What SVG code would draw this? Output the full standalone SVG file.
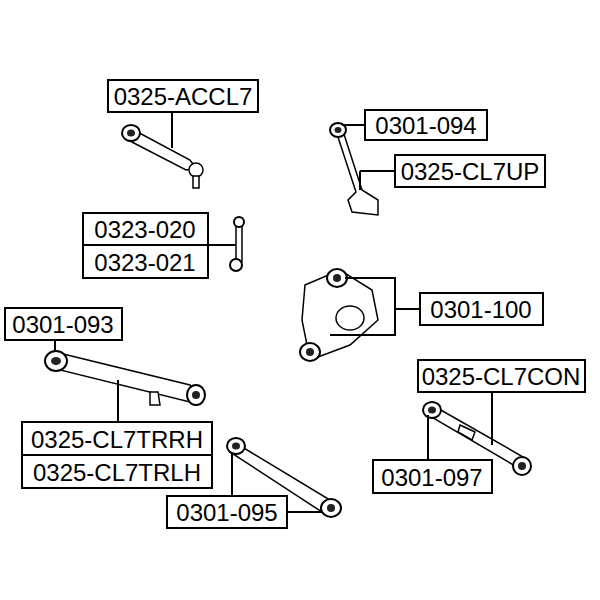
<svg xmlns="http://www.w3.org/2000/svg" width="600" height="600" viewBox="0 0 600 600">
<style>
.b{fill:#fff;stroke:#000;stroke-width:2}
.t{font-family:"Liberation Sans",Arial,sans-serif;font-size:24px;fill:#000}
.c{stroke:#000;stroke-width:2;fill:none}
.p{fill:#fff;stroke:#000;stroke-width:1.5}
.d{fill:#fff;stroke:#000;stroke-width:2}
.k{fill:#222}
</style>
<rect width="600" height="600" fill="#fff"/>
<g id="parts">
<path class="p" d="M130 128 L190 160 L196 168 L186 170 L128 140 Z"/>
<ellipse class="d" cx="131" cy="133" rx="9" ry="8"/><ellipse class="k" cx="131" cy="133" rx="4" ry="3.5"/>
<circle class="p" cx="196" cy="170" r="7"/><rect class="p" x="193" y="176" width="6" height="12"/>
<path class="p" d="M335 128 L342 128 L362 190 L378 200 L378 215 L352 212 L348 200 L356 192 Z"/>
<ellipse class="d" cx="338" cy="130" rx="8" ry="7"/><ellipse class="k" cx="338" cy="130" rx="3.5" ry="3"/>
<path class="p" d="M236 218 L242 218 L242 262 L236 262 Z"/>
<circle class="d" cx="239" cy="222" r="5"/><circle class="d" cx="236" cy="265" r="6"/>
<path class="p" d="M305 285 L340 270 L372 290 L378 320 L350 345 L310 360 L302 320 Z"/>
<ellipse class="d" cx="337" cy="278" rx="10" ry="9"/><ellipse class="k" cx="337" cy="278" rx="4" ry="4"/>
<ellipse class="d" cx="310" cy="352" rx="10" ry="9"/><ellipse class="k" cx="310" cy="352" rx="4" ry="4"/>
<ellipse class="p" cx="350" cy="318" rx="14" ry="12"/>
<path class="p" d="M55 352 L190 385 L200 398 L190 402 L60 370 Z"/>
<ellipse class="d" cx="56" cy="361" rx="11" ry="10"/><ellipse class="k" cx="56" cy="361" rx="5" ry="4"/>
<ellipse class="d" cx="196" cy="395" rx="9" ry="10"/><ellipse class="k" cx="196" cy="395" rx="4" ry="4"/>
<path class="p" d="M150 392 L158 392 L160 405 L150 405 Z"/>
<path class="p" d="M432 405 L525 458 L522 470 L428 415 Z"/>
<ellipse class="d" cx="432" cy="410" rx="9" ry="8"/><ellipse class="k" cx="432" cy="410" rx="4" ry="3.5"/>
<ellipse class="d" cx="522" cy="466" rx="9" ry="9"/><ellipse class="k" cx="522" cy="466" rx="4" ry="4"/>
<path class="p" d="M460 425 L475 432 L472 440 L458 432 Z"/>
<path class="p" d="M234 442 L330 500 L334 512 L322 512 L230 452 Z"/>
<ellipse class="d" cx="236" cy="446" rx="9" ry="8"/><ellipse class="k" cx="236" cy="446" rx="4" ry="3.5"/>
<ellipse class="d" cx="331" cy="508" rx="10" ry="9"/><ellipse class="k" cx="331" cy="508" rx="4" ry="4"/>
</g>
<g id="connectors">
<line class="c" x1="172" y1="112" x2="172" y2="148"/>
<line class="c" x1="365" y1="125" x2="342" y2="125"/>
<line class="c" x1="395" y1="171" x2="360" y2="171"/><line class="c" x1="360" y1="171" x2="360" y2="190"/>
<line class="c" x1="208" y1="245" x2="236" y2="245"/>
<polyline class="c" points="345,278 395,278 395,335 330,335"/>
<line class="c" x1="395" y1="309" x2="420" y2="309"/>
<line class="c" x1="55" y1="340" x2="55" y2="352"/>
<line class="c" x1="118" y1="380" x2="118" y2="422"/>
<polyline class="c" points="492,392 492,445"/>
<polyline class="c" points="428,415 428,460"/>
<polyline class="c" points="232,452 232,496"/>
<line class="c" x1="287" y1="512" x2="322" y2="512"/>
</g>
<g id="n1"><rect class="b" x="108" y="80" width="150" height="32"/><text class="t" x="183" y="105" text-anchor="middle">0325-ACCL7</text></g>
<g id="n2"><rect class="b" x="365" y="110" width="122" height="30"/><text class="t" x="426" y="134" text-anchor="middle">0301-094</text></g>
<g id="n3"><rect class="b" x="395" y="155" width="150" height="32"/><text class="t" x="470" y="180" text-anchor="middle">0325-CL7UP</text></g>
<g id="n4"><rect class="b" x="83" y="213" width="125" height="32"/><text class="t" x="145" y="238" text-anchor="middle">0323-020</text></g>
<g id="n5"><rect class="b" x="83" y="245" width="125" height="33"/><text class="t" x="145" y="271" text-anchor="middle">0323-021</text></g>
<g id="n6"><rect class="b" x="420" y="293" width="123" height="32"/><text class="t" x="481" y="318" text-anchor="middle">0301-100</text></g>
<g id="n7"><rect class="b" x="5" y="308" width="117" height="32"/><text class="t" x="63" y="333" text-anchor="middle">0301-093</text></g>
<g id="n8"><rect class="b" x="418" y="360" width="167" height="32"/><text class="t" x="501" y="385" text-anchor="middle">0325-CL7CON</text></g>
<g id="n9"><rect class="b" x="22" y="422" width="190" height="33"/><text class="t" x="117" y="448" text-anchor="middle">0325-CL7TRRH</text></g>
<g id="n10"><rect class="b" x="22" y="455" width="190" height="33"/><text class="t" x="117" y="481" text-anchor="middle">0325-CL7TRLH</text></g>
<g id="n11"><rect class="b" x="373" y="460" width="119" height="33"/><text class="t" x="432" y="486" text-anchor="middle">0301-097</text></g>
<g id="n12"><rect class="b" x="167" y="496" width="120" height="32"/><text class="t" x="227" y="521" text-anchor="middle">0301-095</text></g>
</svg>
